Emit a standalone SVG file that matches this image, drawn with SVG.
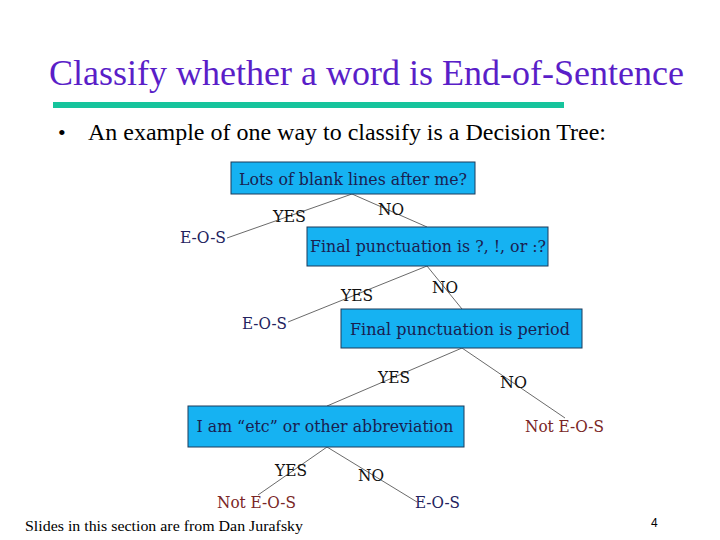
<svg xmlns="http://www.w3.org/2000/svg" width="720" height="540" viewBox="0 0 720 540">
<style>
.ser{font-family:"Liberation Serif","Times New Roman",Times,serif}
.box{fill:#16b2f2;stroke:#1c3a5a;stroke-width:1}
.dv{font-family:"DejaVu Serif","Liberation Serif",serif;font-size:16px}
.bt{fill:#1a2050;text-anchor:middle}
.lbl{fill:#111}
.eos{fill:#23235e}
.not{fill:#7a2626}
.ln{stroke:#444;stroke-width:0.8;fill:none}
</style>
<rect width="720" height="540" fill="#fff"/>
<text class="ser" x="49" y="85" font-size="36" fill="#5a1ec8" textLength="635" lengthAdjust="spacingAndGlyphs">Classify whether a word is End-of-Sentence</text>
<rect x="53" y="102" width="511" height="6" fill="#16c49c"/>
<text class="ser" x="58" y="140" font-size="22" fill="#000">•</text>
<text class="ser" x="88" y="140" font-size="24" fill="#000" textLength="518" lengthAdjust="spacingAndGlyphs">An example of one way to classify is a Decision Tree:</text>
<g id="connectors">
<line class="ln" x1="352" y1="194" x2="227" y2="238"/>
<line class="ln" x1="352" y1="194" x2="427" y2="227"/>
<line class="ln" x1="427" y1="266" x2="288" y2="322"/>
<line class="ln" x1="427" y1="266" x2="462" y2="309"/>
<line class="ln" x1="462" y1="348" x2="327" y2="406"/>
<line class="ln" x1="462" y1="348" x2="565" y2="418"/>
<line class="ln" x1="327" y1="447" x2="258" y2="495"/>
<line class="ln" x1="327" y1="447" x2="417" y2="502"/>
</g>
<g id="n1"><rect class="box" x="231" y="162" width="244" height="32"/><text class="dv bt" x="353" y="185" textLength="228" lengthAdjust="spacingAndGlyphs">Lots of blank lines after me?</text></g>
<g id="n2"><rect class="box" x="307" y="227" width="241" height="39"/><text class="dv bt" x="428" y="252" textLength="236" lengthAdjust="spacingAndGlyphs">Final punctuation is ?, !, or :?</text></g>
<g id="n3"><rect class="box" x="341" y="309" width="241" height="39"/><text class="dv bt" x="460" y="335" textLength="220" lengthAdjust="spacingAndGlyphs">Final punctuation is period</text></g>
<g id="n4"><rect class="box" x="188" y="406" width="276" height="41"/><text class="dv bt" x="325" y="432" textLength="257" lengthAdjust="spacingAndGlyphs">I am “etc” or other abbreviation</text></g>
<g id="leaf1"><text class="dv eos" x="180" y="243" textLength="46" lengthAdjust="spacingAndGlyphs">E-O-S</text></g>
<g id="leaf2"><text class="dv eos" x="242" y="329" textLength="45" lengthAdjust="spacingAndGlyphs">E-O-S</text></g>
<g id="leaf3"><text class="dv not" x="525" y="432" textLength="79" lengthAdjust="spacingAndGlyphs">Not E-O-S</text></g>
<g id="leaf4"><text class="dv not" x="217" y="508" textLength="79" lengthAdjust="spacingAndGlyphs">Not E-O-S</text></g>
<g id="leaf5"><text class="dv eos" x="415" y="508" textLength="45" lengthAdjust="spacingAndGlyphs">E-O-S</text></g>
<g id="labels">
<text class="dv lbl" x="273" y="222" textLength="33" lengthAdjust="spacingAndGlyphs">YES</text>
<text class="dv lbl" x="378" y="215" textLength="26" lengthAdjust="spacingAndGlyphs">NO</text>
<text class="dv lbl" x="341" y="301" textLength="32" lengthAdjust="spacingAndGlyphs">YES</text>
<text class="dv lbl" x="432" y="293" textLength="26" lengthAdjust="spacingAndGlyphs">NO</text>
<text class="dv lbl" x="378" y="383" textLength="32" lengthAdjust="spacingAndGlyphs">YES</text>
<text class="dv lbl" x="500" y="388" textLength="27" lengthAdjust="spacingAndGlyphs">NO</text>
<text class="dv lbl" x="275" y="476" textLength="32" lengthAdjust="spacingAndGlyphs">YES</text>
<text class="dv lbl" x="358" y="481" textLength="26" lengthAdjust="spacingAndGlyphs">NO</text>
</g>
<text class="ser" x="25" y="531" font-size="15" fill="#000" textLength="278" lengthAdjust="spacingAndGlyphs">Slides in this section are from Dan Jurafsky</text>
<text x="651" y="527" font-family="'Liberation Sans',Arial,sans-serif" font-size="12" fill="#000">4</text>
</svg>
